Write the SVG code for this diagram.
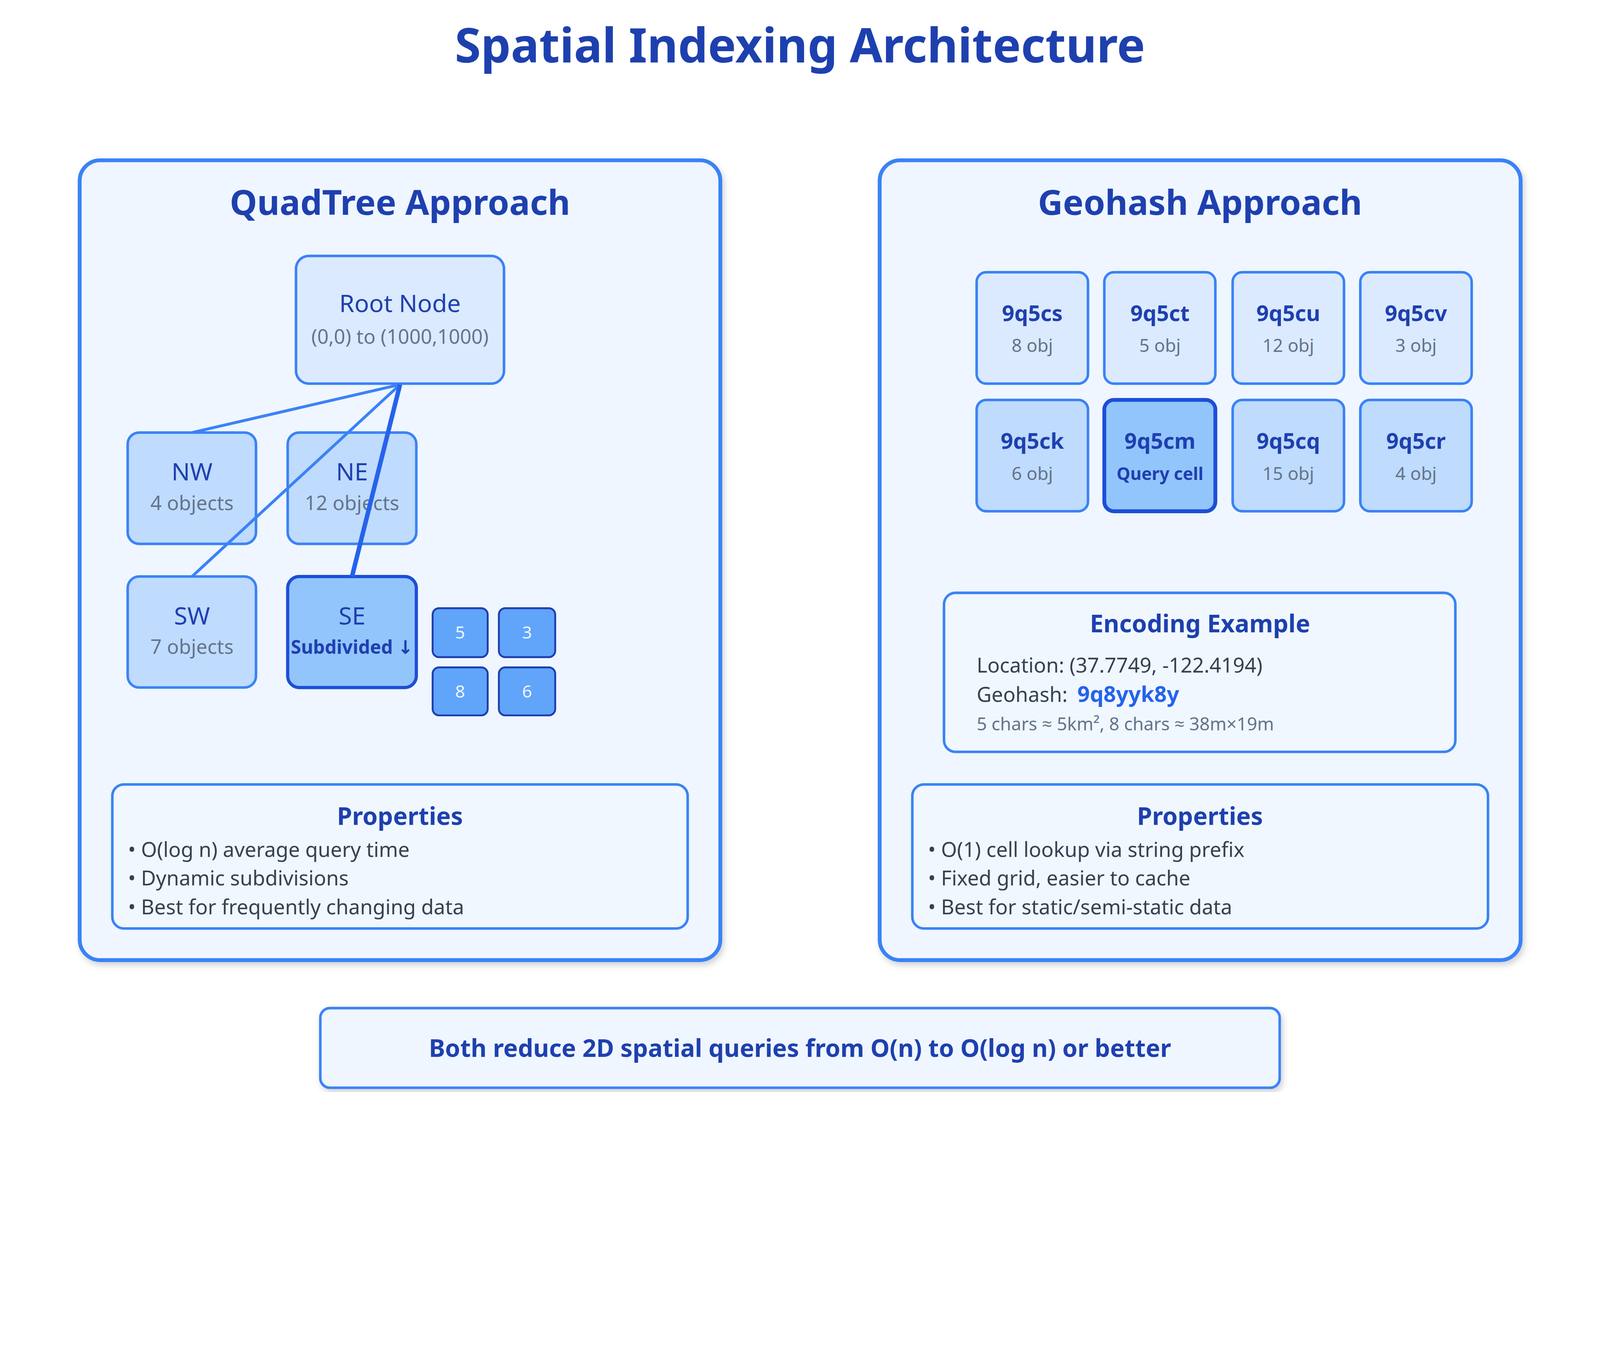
<svg xmlns="http://www.w3.org/2000/svg" width="5000" height="3500" viewBox="0 0 5000 3500" preserveAspectRatio="xMidYMin meet">
<defs>
<filter id="sh" x="-5%" y="-5%" width="110%" height="110%"><feDropShadow dx="6" dy="10" stdDeviation="10" flood-color="#000" flood-opacity="0.18"/></filter>
<style>
svg{width:100vw;height:70vw}
text{font-family:"Noto Sans","Open Sans","DejaVu Sans",sans-serif;text-anchor:middle}
.panel{fill:#eff6ff;stroke:#3b82f6;stroke-width:12}
.box{stroke:#3b82f6;stroke-width:8}
.lbl{fill:#1e40af;font-size:76px}
.sub{fill:#64748b;font-size:62px}
.gl{fill:#1e40af;font-size:68px;font-weight:bold}
.gs{fill:#64748b;font-size:56px}
.h{fill:#1e40af;font-size:76px;font-weight:bold}
.b{fill:#374151;font-size:64px;text-anchor:start}
.note{fill:#64748b;font-size:56px;text-anchor:start}
.cell{fill:#60a5fa;stroke:#1e40af;stroke-width:6}
.ct{fill:#eff6ff;font-size:54px}
.ln{stroke:#3b82f6;stroke-width:9;fill:none}
.lnb{stroke:#2563eb;stroke-width:14;fill:none}
</style>
</defs>
<rect width="5000" height="3500" fill="#fff"/>
<text x="2500" y="195" font-size="148" font-weight="bold" fill="#1e40af">Spatial Indexing Architecture</text>
<g id="quadtree-panel"><rect class="panel" x="249" y="501" width="2002" height="2500" rx="64" filter="url(#sh)"/>
<text x="1250" y="672" font-size="108" font-weight="bold" fill="#1e40af">QuadTree Approach</text></g>
<g id="root"><rect class="box" x="925" y="800" width="650" height="399" rx="40" fill="#dbeafe"/><text class="lbl" x="1250" y="975">Root Node</text><text class="sub" x="1250" y="1074">(0,0) to (1000,1000)</text></g>
<g id="nw"><rect class="box" x="399" y="1352" width="401" height="348" rx="36" fill="#bfdbfe"/><text class="lbl" x="600" y="1502">NW</text><text class="sub" x="600" y="1594">4 objects</text></g>
<g id="ne"><rect class="box" x="899" y="1352" width="402" height="348" rx="36" fill="#bfdbfe"/><text class="lbl" x="1100" y="1502">NE</text><text class="sub" x="1100" y="1594">12 objects</text></g>
<g id="sw"><rect class="box" x="399" y="1802" width="401" height="347" rx="36" fill="#bfdbfe"/><text class="lbl" x="600" y="1952">SW</text><text class="sub" x="600" y="2044">7 objects</text></g>
<g id="se"><rect x="899" y="1802" width="402" height="347" rx="36" fill="#93c5fd" stroke="#1d4ed8" stroke-width="10"/><text class="lbl" x="1100" y="1952">SE</text><text x="1100" y="2044" font-size="58" font-weight="bold" fill="#1e40af">Subdivided ↓</text></g>
<g id="se-cells">
<rect class="cell" x="1352" y="1901" width="172" height="153" rx="20"/><text class="ct" x="1438" y="1996">5</text>
<rect class="cell" x="1559" y="1901" width="176" height="153" rx="20"/><text class="ct" x="1647" y="1996">3</text>
<rect class="cell" x="1352" y="2086" width="172" height="150" rx="20"/><text class="ct" x="1438" y="2180">8</text>
<rect class="cell" x="1559" y="2086" width="176" height="150" rx="20"/><text class="ct" x="1647" y="2180">6</text></g>
<g id="connectors">
<line class="ln" x1="1250" y1="1202" x2="600" y2="1352"/>
<line class="ln" x1="1250" y1="1202" x2="600" y2="1802"/>
<line class="lnb" x1="1250" y1="1202" x2="1100" y2="1802"/>
</g>
<g id="qt-props"><rect class="box" x="351" y="2452" width="1798" height="450" rx="36" fill="#f0f7ff"/><text class="h" x="1250" y="2578">Properties</text>
<text class="b" x="400" y="2678">• O(log n) average query time</text><text class="b" x="400" y="2768">• Dynamic subdivisions</text><text class="b" x="400" y="2858">• Best for frequently changing data</text></g>
<g id="geohash-panel"><rect class="panel" x="2749" y="501" width="2003" height="2500" rx="64" filter="url(#sh)"/>
<text x="3750" y="672" font-size="108" font-weight="bold" fill="#1e40af">Geohash Approach</text></g>
<g id="g-9q5cs"><rect class="box" x="3052" y="851" width="348" height="348" rx="30" fill="#dbeafe"/><text class="gl" x="3226" y="1003">9q5cs</text><text class="gs" x="3226" y="1100">8 obj</text></g>
<g id="g-9q5ct"><rect class="box" x="3451" y="851" width="347" height="348" rx="30" fill="#dbeafe"/><text class="gl" x="3625" y="1003">9q5ct</text><text class="gs" x="3625" y="1100">5 obj</text></g>
<g id="g-9q5cu"><rect class="box" x="3852" y="851" width="348" height="348" rx="30" fill="#dbeafe"/><text class="gl" x="4026" y="1003">9q5cu</text><text class="gs" x="4026" y="1100">12 obj</text></g>
<g id="g-9q5cv"><rect class="box" x="4251" y="851" width="348" height="348" rx="30" fill="#dbeafe"/><text class="gl" x="4425" y="1003">9q5cv</text><text class="gs" x="4425" y="1100">3 obj</text></g>
<g id="g-9q5ck"><rect class="box" x="3052" y="1250" width="348" height="348" rx="30" fill="#bfdbfe"/><text class="gl" x="3226" y="1403">9q5ck</text><text class="gs" x="3226" y="1500">6 obj</text></g>
<g id="g-9q5cm"><rect x="3451" y="1250" width="347" height="348" rx="30" fill="#93c5fd" stroke="#1d4ed8" stroke-width="12"/><text class="gl" x="3625" y="1403">9q5cm</text><text x="3625" y="1500" font-size="54" font-weight="bold" fill="#1e40af">Query cell</text></g>
<g id="g-9q5cq"><rect class="box" x="3852" y="1250" width="348" height="348" rx="30" fill="#bfdbfe"/><text class="gl" x="4026" y="1403">9q5cq</text><text class="gs" x="4026" y="1500">15 obj</text></g>
<g id="g-9q5cr"><rect class="box" x="4251" y="1250" width="348" height="348" rx="30" fill="#bfdbfe"/><text class="gl" x="4425" y="1403">9q5cr</text><text class="gs" x="4425" y="1500">4 obj</text></g>
<g id="encoding"><rect class="box" x="2950" y="1853" width="1598" height="497" rx="36" fill="#f0f7ff"/><text class="h" x="3750" y="1976">Encoding Example</text>
<text class="b" x="3052" y="2102">Location: (37.7749, -122.4194)</text>
<text class="b" x="3052" y="2194">Geohash: <tspan font-weight="bold" fill="#2563eb" font-size="68" dx="14">9q8yyk8y</tspan></text>
<text class="note" x="3052" y="2283">5 chars ≈ 5km², 8 chars ≈ 38m×19m</text></g>
<g id="gh-props"><rect class="box" x="2851" y="2452" width="1799" height="450" rx="36" fill="#f0f7ff"/><text class="h" x="3750" y="2578">Properties</text>
<text class="b" x="2900" y="2678">• O(1) cell lookup via string prefix</text><text class="b" x="2900" y="2768">• Fixed grid, easier to cache</text><text class="b" x="2900" y="2858">• Best for static/semi-static data</text></g>
<g id="summary"><rect class="box" x="1001" y="3151" width="2998" height="249" rx="30" fill="#eff6ff" filter="url(#sh)"/><text x="2500" y="3303" font-size="76" font-weight="bold" fill="#1e40af">Both reduce 2D spatial queries from O(n) to O(log n) or better</text></g>
</svg>
